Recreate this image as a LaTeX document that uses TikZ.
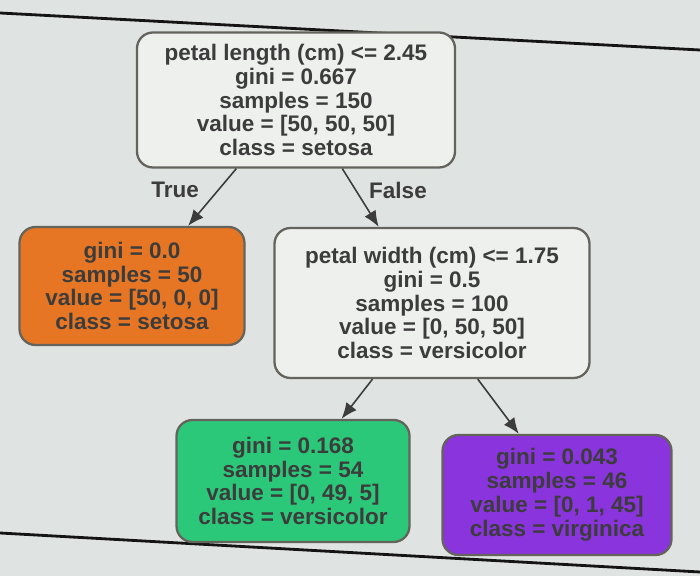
\documentclass[tikz,border=0pt]{standalone}
\usepackage{fontspec}
\setmainfont{Liberation Sans}
\usepackage{tikz}
\usetikzlibrary{arrows.meta}

\begin{document}
\begin{tikzpicture}[
  treenode/.style={draw=bordercolor,line width=1.3pt,rounded corners=0.32cm,
    align=center,inner sep=0pt,text=textcolor,
    font=\fontsize{12.8}{13.6}\selectfont\bfseries},
  edgelabel/.style={text=textcolor,font=\fontsize{12.8}{13.6}\selectfont\bfseries},
  treeedge/.style={draw=edgecolor,line width=0.9pt,-{Latex[length=0.32cm,width=0.26cm]}}]
\definecolor{background}{RGB}{223,227,225}
\definecolor{fillcolor}{RGB}{238,240,238}
\definecolor{bordercolor}{RGB}{100,100,92}
\definecolor{edgecolor}{RGB}{60,60,60}
\definecolor{textcolor}{RGB}{60,60,60}
\definecolor{setosacolor}{RGB}{230,118,36}
\definecolor{versicolorcolor}{RGB}{44,200,122}
\definecolor{virginicacolor}{RGB}{138,52,222}
\definecolor{framecolor}{RGB}{20,20,20}
\fill [background] (0,0) rectangle (14,11.52);
\useasboundingbox (0,0) rectangle (14,11.52);
\draw [framecolor,line width=1.6pt] (0,11.26) -- (14,10.52);
\draw [framecolor,line width=1.6pt] (0,0.86) -- (14,0.08);
\node [treenode,fill=fillcolor,minimum width=6.36cm,minimum height=2.7cm] (root) at (5.92,9.52)
  {petal length (cm) <= 2.45\\gini = 0.667\\samples = 150\\value = [50, 50, 50]\\class = setosa};
\node [treenode,fill=setosacolor,minimum width=4.5cm,minimum height=2.36cm] (setosa) at (2.64,5.80)
  {gini = 0.0\\samples = 50\\value = [50, 0, 0]\\class = setosa};
\node [treenode,fill=fillcolor,minimum width=6.3cm,minimum height=3.0cm] (split) at (8.64,5.46)
  {petal width (cm) <= 1.75\\gini = 0.5\\samples = 100\\value = [0, 50, 50]\\class = versicolor};
\node [treenode,fill=versicolorcolor,minimum width=4.66cm,minimum height=2.44cm] (versicolor) at (5.86,1.90)
  {gini = 0.168\\samples = 54\\value = [0, 49, 5]\\class = versicolor};
\node [treenode,fill=virginicacolor,minimum width=4.58cm,minimum height=2.4cm] (virginica) at (11.14,1.62)
  {gini = 0.043\\samples = 46\\value = [0, 1, 45]\\class = virginica};
\draw [treeedge] (root.229.5) -- (setosa.47.6);
\draw [treeedge] (root.304.2) -- (split.125.8);
\draw [treeedge] (split.232) -- (versicolor.52.4);
\draw [treeedge] (split.301.5) -- (virginica.122.5);
\node [edgelabel] (truelabel) at (3.5,7.72) {True};
\node [edgelabel] (falselabel) at (7.96,7.72) {False};
\end{tikzpicture}
\end{document}
